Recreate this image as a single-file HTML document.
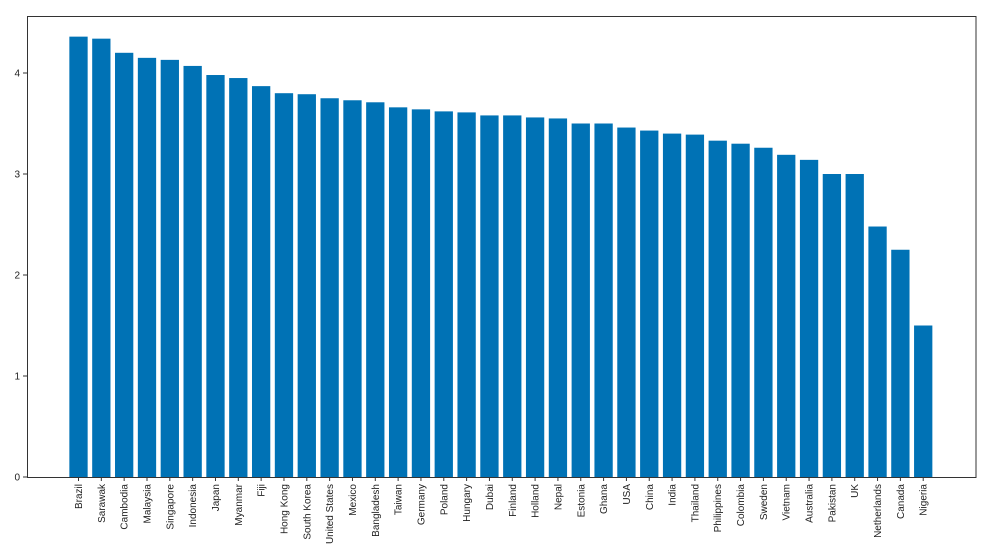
<!DOCTYPE html>
<html><head><meta charset="utf-8"><style>
body{margin:0;background:#fff;}
svg{display:block;font-family:"Liberation Sans","DejaVu Sans",sans-serif;}
</style></head><body>
<svg id="chart" width="985" height="551">
<g id="bars"></g>
<g id="yaxis"></g>
<g id="xaxis"></g>
<rect x="27.5" y="16.5" width="948.5" height="461" fill="none" stroke="#333" stroke-width="1"/>
</svg>
<script>
const categories=["Brazil","Sarawak","Cambodia","Malaysia","Singapore","Indonesia","Japan","Myanmar","Fiji","Hong Kong","South Korea","United States","Mexico","Bangladesh","Taiwan","Germany","Poland","Hungary","Dubai","Finland","Holland","Nepal","Estonia","Ghana","USA","China","India","Thailand","Philippines","Colombia","Sweden","Vietnam","Australia","Pakistan","UK","Netherlands","Canada","Nigeria"];
const values=[4.36,4.34,4.2,4.15,4.13,4.07,3.98,3.95,3.87,3.8,3.79,3.75,3.73,3.71,3.66,3.64,3.62,3.61,3.58,3.58,3.56,3.55,3.5,3.5,3.46,3.43,3.4,3.39,3.33,3.3,3.26,3.19,3.14,3.0,3.0,2.48,2.25,1.5];
const yTicks=[0,1,2,3,4];
const NS="http://www.w3.org/2000/svg";
function xPos(i){return 78.5+i*22.83;}
function yPos(v){return 477-v*101;}
const bw=18.3;
const bars=document.getElementById('bars'),ya=document.getElementById('yaxis'),xa=document.getElementById('xaxis');
categories.forEach((c,i)=>{
  const r=document.createElementNS(NS,'rect');
  r.setAttribute('x',xPos(i)-bw/2);r.setAttribute('y',yPos(values[i]));
  r.setAttribute('width',bw);r.setAttribute('height',yPos(0)-yPos(values[i]));
  r.setAttribute('fill','#0072b5');
  
  
  bars.appendChild(r);
  const t=document.createElementNS(NS,'line');
  t.setAttribute('x1',xPos(i));t.setAttribute('x2',xPos(i));t.setAttribute('y1',477);t.setAttribute('y2',481);t.setAttribute('stroke','#333');
  
  
  xa.appendChild(t);
  const l=document.createElementNS(NS,'text');
  l.setAttribute('transform','translate('+(xPos(i)+3.5)+',484) rotate(-90)');
  l.setAttribute('text-anchor','end');l.setAttribute('font-size','10');l.setAttribute('fill','#222');
  l.textContent=c;
  
  
  xa.appendChild(l);
});
yTicks.forEach(v=>{
  const t=document.createElementNS(NS,'line');
  t.setAttribute('x1',23);t.setAttribute('x2',27);t.setAttribute('y1',yPos(v));t.setAttribute('y2',yPos(v));t.setAttribute('stroke','#333');
  
  
  ya.appendChild(t);
  const l=document.createElementNS(NS,'text');
  l.setAttribute('x',20);l.setAttribute('y',yPos(v)+3.5);l.setAttribute('text-anchor','end');l.setAttribute('font-size','10');l.setAttribute('fill','#222');
  l.textContent=v;
  
  
  ya.appendChild(l);
});
</script>
</body></html>
